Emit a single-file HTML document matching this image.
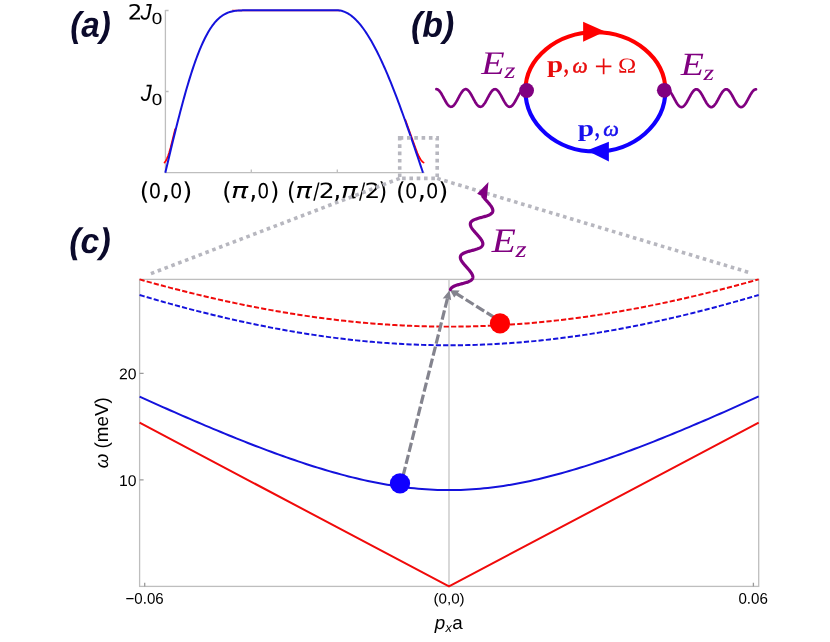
<!DOCTYPE html>
<html><head><meta charset="utf-8"><title>Figure</title>
<style>html,body{margin:0;padding:0;background:#fff;}svg{display:block;}</style>
</head><body>
<svg width="830" height="642" viewBox="0 0 830 642">
<rect width="830" height="642" fill="#ffffff"/>
<!-- panel a -->
<g fill="none" stroke="#bebebe" stroke-width="1.3">
<path d="M165.4,10 V172.7 H424.5"/>
<path d="M165.4,10.5 h3.2 M165.4,91.5 h3.2 M251.3,172.7 v-3.2 M337.3,172.7 v-3.2"/>
</g>
<path d="M164.50,162.50 L165.60,161.30 L166.90,158.60 L168.00,156.00 L169.20,152.50 L170.50,148.00 L171.50,144.00 L173.00,138.00 L175.20,129.00" fill="none" stroke="#ff0000" stroke-width="1.7" stroke-linecap="round" stroke-linejoin="round"/>
<path d="M423.70,162.60 L422.40,161.80 L420.60,159.50 L418.90,156.50 L417.40,153.00 L415.50,148.00 L413.70,143.00 L411.50,137.00 L409.00,130.00 L405.40,120.00" fill="none" stroke="#ff0000" stroke-width="1.7" stroke-linecap="round" stroke-linejoin="round"/>
<path d="M232,10.6 H340" fill="none" stroke="#f00a0a" stroke-width="2.0" stroke-opacity="0.45"/>
<path d="M165.30,172.70 L166.37,168.19 L167.45,163.69 L168.52,159.19 L169.59,154.71 L170.67,150.24 L171.74,145.80 L172.82,141.38 L173.89,136.99 L174.96,132.64 L176.04,128.32 L177.11,124.05 L178.19,119.82 L179.26,115.64 L180.33,111.52 L181.41,107.45 L182.48,103.44 L183.55,99.50 L184.63,95.63 L185.70,91.82 L186.78,88.09 L187.85,84.43 L188.92,80.86 L190.00,77.36 L191.07,73.95 L192.14,70.63 L193.22,67.39 L194.29,64.24 L195.37,61.19 L196.44,58.23 L197.51,55.36 L198.59,52.59 L199.66,49.92 L200.73,47.34 L201.81,44.86 L202.88,42.48 L203.96,40.20 L205.03,38.02 L206.10,35.93 L207.18,33.95 L208.25,32.06 L209.32,30.26 L210.40,28.57 L211.47,26.96 L212.55,25.45 L213.62,24.03 L214.69,22.70 L215.77,21.46 L216.84,20.30 L217.91,19.22 L218.99,18.23 L220.06,17.31 L221.13,16.47 L222.21,15.70 L223.28,15.00 L224.36,14.36 L225.43,13.79 L226.50,13.27 L227.58,12.81 L228.65,12.41 L229.73,12.05 L230.80,11.74 L231.87,11.47 L232.95,11.24 L234.02,11.04 L235.09,10.88 L236.17,10.74 L237.24,10.63 L238.31,10.54 L239.39,10.47 L240.46,10.42 L241.54,10.38 L242.61,10.35 L243.68,10.33 L244.76,10.32 L245.83,10.31 L246.91,10.30 L247.98,10.30 L249.05,10.30 L250.13,10.30 L251.20,10.30 L252.27,10.30 L253.35,10.30 L254.42,10.30 L255.50,10.30 L256.57,10.30 L257.64,10.30 L258.72,10.30 L259.79,10.30 L260.86,10.30 L261.94,10.30 L263.01,10.30 L264.08,10.30 L265.16,10.30 L266.23,10.30 L267.31,10.30 L268.38,10.30 L269.45,10.30 L270.53,10.30 L271.60,10.30 L272.68,10.30 L273.75,10.30 L274.82,10.30 L275.90,10.30 L276.97,10.30 L278.04,10.30 L279.12,10.30 L280.19,10.30 L281.26,10.30 L282.34,10.30 L283.41,10.30 L284.49,10.30 L285.56,10.30 L286.63,10.30 L287.71,10.30 L288.78,10.30 L289.86,10.30 L290.93,10.30 L292.00,10.30 L293.08,10.30 L294.15,10.30 L295.22,10.30 L296.30,10.30 L297.37,10.30 L298.44,10.30 L299.52,10.30 L300.59,10.30 L301.67,10.30 L302.74,10.30 L303.81,10.30 L304.89,10.30 L305.96,10.30 L307.03,10.30 L308.11,10.30 L309.18,10.30 L310.26,10.30 L311.33,10.30 L312.40,10.30 L313.48,10.30 L314.55,10.30 L315.62,10.30 L316.70,10.30 L317.77,10.30 L318.85,10.30 L319.92,10.30 L320.99,10.30 L322.07,10.30 L323.14,10.30 L324.22,10.30 L325.29,10.30 L326.36,10.30 L327.44,10.30 L328.51,10.30 L329.58,10.30 L330.66,10.30 L331.73,10.30 L332.80,10.30 L333.88,10.30 L334.95,10.30 L336.03,10.30 L337.10,10.30 L338.17,10.33 L339.25,10.43 L340.32,10.58 L341.39,10.80 L342.47,11.08 L343.54,11.43 L344.62,11.83 L345.69,12.30 L346.76,12.83 L347.84,13.42 L348.91,14.07 L349.99,14.79 L351.06,15.56 L352.13,16.40 L353.21,17.29 L354.28,18.25 L355.35,19.26 L356.43,20.34 L357.50,21.47 L358.57,22.66 L359.65,23.91 L360.72,25.22 L361.80,26.58 L362.87,28.00 L363.94,29.48 L365.02,31.01 L366.09,32.59 L367.16,34.23 L368.24,35.92 L369.31,37.67 L370.39,39.47 L371.46,41.32 L372.53,43.22 L373.61,45.16 L374.68,47.16 L375.75,49.21 L376.83,51.30 L377.90,53.45 L378.98,55.63 L380.05,57.87 L381.12,60.14 L382.20,62.46 L383.27,64.83 L384.34,67.23 L385.42,69.67 L386.49,72.16 L387.57,74.68 L388.64,77.24 L389.71,79.84 L390.79,82.48 L391.86,85.14 L392.93,87.85 L394.01,90.58 L395.08,93.35 L396.16,96.15 L397.23,98.97 L398.30,101.83 L399.38,104.71 L400.45,107.62 L401.52,110.55 L402.60,113.51 L403.67,116.49 L404.75,119.49 L405.82,122.52 L406.89,125.56 L407.97,128.62 L409.04,131.70 L410.12,134.79 L411.19,137.90 L412.26,141.02 L413.34,144.15 L414.41,147.30 L415.48,150.45 L416.56,153.61 L417.63,156.78 L418.71,159.96 L419.78,163.14 L420.85,166.32 L421.93,169.51 L423.00,172.70" fill="none" stroke="#1412dc" stroke-width="2.0" stroke-linejoin="round"/>
<text transform="translate(139.69,199.62) scale(1.017,1) rotate(0.03)" font-family="'DejaVu Sans',sans-serif"  font-size="24.14px" fill="#000">(</text><text transform="translate(148.72,198.20) scale(0.931,1) rotate(0.03)" font-family="'DejaVu Sans',sans-serif"  font-size="20.89px" fill="#000">0</text><text transform="translate(161.40,198.51) scale(0.963,1) rotate(0.03)" font-family="'DejaVu Sans',sans-serif"  font-size="28.31px" fill="#000">,</text><text transform="translate(169.92,198.20) scale(0.931,1) rotate(0.03)" font-family="'DejaVu Sans',sans-serif"  font-size="20.89px" fill="#000">0</text><text transform="translate(182.13,199.62) scale(1.072,1) rotate(0.03)" font-family="'DejaVu Sans',sans-serif"  font-size="24.14px" fill="#000">)</text>
<text transform="translate(395.89,199.62) scale(1.017,1) rotate(0.03)" font-family="'DejaVu Sans',sans-serif"  font-size="24.14px" fill="#000">(</text><text transform="translate(404.92,198.20) scale(0.931,1) rotate(0.03)" font-family="'DejaVu Sans',sans-serif"  font-size="20.89px" fill="#000">0</text><text transform="translate(417.60,198.51) scale(0.963,1) rotate(0.03)" font-family="'DejaVu Sans',sans-serif"  font-size="28.31px" fill="#000">,</text><text transform="translate(426.12,198.20) scale(0.931,1) rotate(0.03)" font-family="'DejaVu Sans',sans-serif"  font-size="20.89px" fill="#000">0</text><text transform="translate(438.33,199.62) scale(1.072,1) rotate(0.03)" font-family="'DejaVu Sans',sans-serif"  font-size="24.14px" fill="#000">)</text>
<text transform="translate(222.33,199.62) scale(0.998,1) rotate(0.03)" font-family="'DejaVu Sans',sans-serif"  font-size="24.14px" fill="#000">(</text><text transform="translate(230.94,198.08) scale(1.292,1) rotate(0.03)" font-family="'DejaVu Sans',sans-serif" font-style="italic" font-size="22.09px" fill="#000">π</text><text transform="translate(249.26,198.51) scale(0.889,1) rotate(0.03)" font-family="'DejaVu Sans',sans-serif"  font-size="28.31px" fill="#000">,</text><text transform="translate(257.36,198.20) scale(0.902,1) rotate(0.03)" font-family="'DejaVu Sans',sans-serif"  font-size="20.89px" fill="#000">0</text><text transform="translate(270.07,199.62) scale(0.998,1) rotate(0.03)" font-family="'DejaVu Sans',sans-serif"  font-size="24.14px" fill="#000">)</text>
<text transform="translate(286.88,199.62) scale(0.924,1) rotate(0.03)" font-family="'DejaVu Sans',sans-serif"  font-size="24.14px" fill="#000">(</text><text transform="translate(295.29,198.08) scale(1.252,1) rotate(0.03)" font-family="'DejaVu Sans',sans-serif" font-style="italic" font-size="22.09px" fill="#000">π</text><text transform="translate(313.30,198.73) scale(0.840,1) rotate(0.03)" font-family="'DejaVu Sans',sans-serif"  font-size="22.27px" fill="#000">/</text><text transform="translate(318.76,198.30) scale(1.192,1) rotate(0.03)" font-family="'DejaVu Sans',sans-serif"  font-size="21.02px" fill="#000">2</text><text transform="translate(333.26,198.51) scale(0.889,1) rotate(0.03)" font-family="'DejaVu Sans',sans-serif"  font-size="28.31px" fill="#000">,</text><text transform="translate(340.99,198.08) scale(1.252,1) rotate(0.03)" font-family="'DejaVu Sans',sans-serif" font-style="italic" font-size="22.09px" fill="#000">π</text><text transform="translate(359.10,198.73) scale(0.826,1) rotate(0.03)" font-family="'DejaVu Sans',sans-serif"  font-size="22.27px" fill="#000">/</text><text transform="translate(364.58,198.30) scale(1.182,1) rotate(0.03)" font-family="'DejaVu Sans',sans-serif"  font-size="21.02px" fill="#000">2</text><text transform="translate(378.41,199.62) scale(0.924,1) rotate(0.03)" font-family="'DejaVu Sans',sans-serif"  font-size="24.14px" fill="#000">)</text>
<!-- dotted zoom lines -->
<g fill="none" stroke="#b7b7bf" stroke-width="3.6" stroke-dasharray="3.6 3.7">
<path d="M399.7,137.9 H437.2 V178.4 H399.7 Z"/>
<line x1="399.7" y1="178.4" x2="150" y2="274"/>
<line x1="437.2" y1="178.4" x2="751.5" y2="273.2"/>
</g>
<!-- panel labels -->
<text transform="translate(70.30,36.83) scale(0.937,1) rotate(0.03)" font-family="'Liberation Sans',sans-serif" font-style="italic" font-weight="bold" font-size="35.51px" fill="#0b0a2b">(a)</text>
<text transform="translate(410.98,36.83) scale(0.953,1) rotate(0.03)" font-family="'Liberation Sans',sans-serif" font-style="italic" font-weight="bold" font-size="35.51px" fill="#0b0a2b">(b)</text>
<text transform="translate(69.28,253.05) scale(0.957,1) rotate(0.03)" font-family="'Liberation Sans',sans-serif" font-style="italic" font-weight="bold" font-size="35.40px" fill="#0b0a2b">(c)</text>
<!-- panel b -->
<g fill="none" stroke-width="4.1">
<path d="M525.4,90.6 A70,58.4 0 0 1 665.4,90.6" stroke="#ff0000"/>
<path d="M665.4,90.6 A70,61 0 0 1 525.4,90.6" stroke="#1000ff"/>
</g>
<path d="M583.1,21.8 L605.0,31.6 L583.1,41.7 Z" fill="#ff0000"/>
<path d="M608.9,141.7 L586.8,150.6 L608.9,161.5 Z" fill="#1000ff"/>
<g fill="none" stroke="#800080" stroke-width="2.7" stroke-linecap="round">
<path d="M436.40,89.20 L436.84,89.24 L437.28,89.36 L437.72,89.55 L438.16,89.82 L438.60,90.17 L439.05,90.58 L439.49,91.06 L439.93,91.60 L440.37,92.20 L440.81,92.85 L441.25,93.55 L441.69,94.28 L442.13,95.05 L442.57,95.85 L443.01,96.67 L443.46,97.49 L443.90,98.32 L444.34,99.15 L444.78,99.97 L445.22,100.77 L445.66,101.55 L446.10,102.29 L446.54,103.00 L446.98,103.66 L447.42,104.27 L447.87,104.83 L448.31,105.32 L448.75,105.75 L449.19,106.11 L449.63,106.40 L450.07,106.61 L450.51,106.74 L450.95,106.80 L451.39,106.78 L451.83,106.68 L452.28,106.50 L452.72,106.24 L453.16,105.92 L453.60,105.52 L454.04,105.05 L454.48,104.52 L454.92,103.94 L455.36,103.30 L455.80,102.61 L456.25,101.88 L456.69,101.12 L457.13,100.33 L457.57,99.52 L458.01,98.69 L458.45,97.86 L458.89,97.03 L459.33,96.21 L459.77,95.40 L460.21,94.62 L460.65,93.87 L461.10,93.15 L461.54,92.48 L461.98,91.86 L462.42,91.29 L462.86,90.78 L463.30,90.34 L463.74,89.96 L464.18,89.66 L464.62,89.43 L465.06,89.28 L465.51,89.21 L465.95,89.21 L466.39,89.30 L466.83,89.46 L467.27,89.69 L467.71,90.01 L468.15,90.39 L468.59,90.84 L469.03,91.35 L469.48,91.93 L469.92,92.56 L470.36,93.24 L470.80,93.96 L471.24,94.71 L471.68,95.50 L472.12,96.30 L472.56,97.13 L473.00,97.96 L473.44,98.79 L473.88,99.61 L474.33,100.42 L474.77,101.21 L475.21,101.97 L475.65,102.69 L476.09,103.38 L476.53,104.01 L476.97,104.59 L477.41,105.11 L477.85,105.57 L478.30,105.96 L478.74,106.28 L479.18,106.52 L479.62,106.69 L480.06,106.78 L480.50,106.80 L480.94,106.73 L481.38,106.59 L481.82,106.36 L482.26,106.07 L482.70,105.70 L483.15,105.27 L483.59,104.76 L484.03,104.20 L484.47,103.58 L484.91,102.92 L485.35,102.21 L485.79,101.46 L486.23,100.68 L486.67,99.87 L487.12,99.05 L487.56,98.22 L488.00,97.39 L488.44,96.57 L488.88,95.75 L489.32,94.96 L489.76,94.19 L490.20,93.46 L490.64,92.77 L491.08,92.12 L491.52,91.53 L491.97,91.00 L492.41,90.53 L492.85,90.12 L493.29,89.79 L493.73,89.52 L494.17,89.34 L494.61,89.23 L495.05,89.20 L495.49,89.25 L495.94,89.38 L496.38,89.58 L496.82,89.86 L497.26,90.21 L497.70,90.63 L498.14,91.12 L498.58,91.67 L499.02,92.28 L499.46,92.93 L499.90,93.63 L500.35,94.37 L500.79,95.15 L501.23,95.95 L501.67,96.76 L502.11,97.59 L502.55,98.42 L502.99,99.25 L503.43,100.07 L503.87,100.87 L504.31,101.64 L504.75,102.38 L505.20,103.08 L505.64,103.74 L506.08,104.34 L506.52,104.89 L506.96,105.38 L507.40,105.80 L507.84,106.15 L508.28,106.42 L508.72,106.63 L509.17,106.75 L509.61,106.80 L510.05,106.77 L510.49,106.66 L510.93,106.47 L511.37,106.21 L511.81,105.87 L512.25,105.47 L512.69,104.99 L513.13,104.46 L513.58,103.86 L514.02,103.22 L514.46,102.52 L514.90,101.79 L515.34,101.02 L515.78,100.23 L516.22,99.42 L516.66,98.59 L517.10,97.76 L517.54,96.93 L517.99,96.11 L518.43,95.31 L518.87,94.53 L519.31,93.78 L519.75,93.07 L520.19,92.40 L520.63,91.79 L521.07,91.23 L521.51,90.73 L521.95,90.29 L522.39,89.92 L522.84,89.63 L523.28,89.41 L523.72,89.27 L524.16,89.20 L524.60,89.22"/>
<path d="M666.60,89.30 L667.05,89.34 L667.49,89.46 L667.94,89.65 L668.39,89.92 L668.84,90.27 L669.28,90.69 L669.73,91.17 L670.18,91.71 L670.62,92.31 L671.07,92.97 L671.52,93.67 L671.96,94.41 L672.41,95.19 L672.86,95.99 L673.31,96.81 L673.75,97.64 L674.20,98.48 L674.65,99.32 L675.09,100.14 L675.54,100.95 L675.99,101.73 L676.43,102.49 L676.88,103.20 L677.33,103.87 L677.77,104.49 L678.22,105.06 L678.67,105.56 L679.12,106.00 L679.56,106.37 L680.01,106.66 L680.46,106.89 L680.90,107.03 L681.35,107.10 L681.80,107.08 L682.25,106.99 L682.69,106.82 L683.14,106.57 L683.59,106.25 L684.03,105.86 L684.48,105.40 L684.93,104.88 L685.37,104.29 L685.82,103.65 L686.27,102.97 L686.72,102.24 L687.16,101.48 L687.61,100.68 L688.06,99.87 L688.50,99.04 L688.95,98.20 L689.40,97.36 L689.84,96.53 L690.29,95.72 L690.74,94.92 L691.19,94.16 L691.63,93.43 L692.08,92.75 L692.53,92.11 L692.97,91.52 L693.42,91.00 L693.87,90.54 L694.31,90.15 L694.76,89.83 L695.21,89.58 L695.65,89.41 L696.10,89.32 L696.55,89.30 L697.00,89.37 L697.44,89.51 L697.89,89.74 L698.34,90.03 L698.78,90.40 L699.23,90.84 L699.68,91.34 L700.12,91.91 L700.57,92.53 L701.02,93.20 L701.47,93.91 L701.91,94.67 L702.36,95.45 L702.81,96.26 L703.25,97.08 L703.70,97.92 L704.15,98.76 L704.60,99.59 L705.04,100.41 L705.49,101.21 L705.94,101.99 L706.38,102.73 L706.83,103.43 L707.28,104.09 L707.72,104.69 L708.17,105.23 L708.62,105.71 L709.07,106.13 L709.51,106.48 L709.96,106.75 L710.41,106.94 L710.85,107.06 L711.30,107.10 L711.75,107.06 L712.19,106.94 L712.64,106.75 L713.09,106.48 L713.53,106.13 L713.98,105.71 L714.43,105.23 L714.88,104.69 L715.32,104.09 L715.77,103.43 L716.22,102.73 L716.66,101.99 L717.11,101.21 L717.56,100.41 L718.00,99.59 L718.45,98.76 L718.90,97.92 L719.35,97.08 L719.79,96.26 L720.24,95.45 L720.69,94.67 L721.13,93.91 L721.58,93.20 L722.03,92.53 L722.48,91.91 L722.92,91.34 L723.37,90.84 L723.82,90.40 L724.26,90.03 L724.71,89.74 L725.16,89.51 L725.60,89.37 L726.05,89.30 L726.50,89.32 L726.95,89.41 L727.39,89.58 L727.84,89.83 L728.29,90.15 L728.73,90.54 L729.18,91.00 L729.63,91.52 L730.07,92.11 L730.52,92.75 L730.97,93.43 L731.41,94.16 L731.86,94.92 L732.31,95.72 L732.76,96.53 L733.20,97.36 L733.65,98.20 L734.10,99.04 L734.54,99.87 L734.99,100.68 L735.44,101.48 L735.88,102.24 L736.33,102.97 L736.78,103.65 L737.23,104.29 L737.67,104.88 L738.12,105.40 L738.57,105.86 L739.01,106.25 L739.46,106.57 L739.91,106.82 L740.36,106.99 L740.80,107.08 L741.25,107.10 L741.70,107.03 L742.14,106.89 L742.59,106.66 L743.04,106.37 L743.48,106.00 L743.93,105.56 L744.38,105.06 L744.83,104.49 L745.27,103.87 L745.72,103.20 L746.17,102.49 L746.61,101.73 L747.06,100.95 L747.51,100.14 L747.95,99.32 L748.40,98.48 L748.85,97.64 L749.29,96.81 L749.74,95.99 L750.19,95.19 L750.64,94.41 L751.08,93.67 L751.53,92.97 L751.98,92.31 L752.42,91.71 L752.87,91.17 L753.32,90.69 L753.76,90.27 L754.21,89.92 L754.66,89.65 L755.11,89.46 L755.55,89.34 L756.00,89.30"/>
</g>
<circle cx="526.6" cy="90.5" r="7.4" fill="#800080"/>
<circle cx="664.3" cy="90.3" r="7.4" fill="#800080"/>
<!-- panel c -->
<g fill="none" stroke="#bebebe" stroke-width="1.3">
<rect x="139.6" y="279.4" width="619.1" height="307.0"/>
<line x1="449.0" y1="279.4" x2="449.0" y2="586.4" stroke="#c4c4c4"/>
<path d="M139.6,479.8 h4 M139.6,373.3 h4 M144.7,586.4 v-3.6 M753.4,586.4 v-3.6" stroke="#9a9a9a"/>
</g>
<path d="M139.60,422.74 L449.00,586.40 L758.70,422.74" fill="none" stroke="#f00a0a" stroke-width="2.0"/>
<path d="M139.60,396.57 L143.47,398.33 L147.34,400.08 L151.21,401.83 L155.08,403.57 L158.95,405.31 L162.82,407.04 L166.69,408.76 L170.56,410.47 L174.42,412.18 L178.29,413.88 L182.16,415.58 L186.03,417.26 L189.90,418.94 L193.77,420.61 L197.64,422.27 L201.51,423.92 L205.38,425.56 L209.25,427.20 L213.12,428.82 L216.99,430.44 L220.86,432.04 L224.73,433.63 L228.60,435.22 L232.47,436.79 L236.33,438.35 L240.20,439.89 L244.07,441.43 L247.94,442.95 L251.81,444.46 L255.68,445.96 L259.55,447.44 L263.42,448.91 L267.29,450.36 L271.16,451.79 L275.03,453.22 L278.90,454.62 L282.77,456.01 L286.64,457.38 L290.51,458.73 L294.38,460.06 L298.24,461.38 L302.11,462.67 L305.98,463.95 L309.85,465.20 L313.72,466.43 L317.59,467.64 L321.46,468.82 L325.33,469.98 L329.20,471.12 L333.07,472.23 L336.94,473.32 L340.81,474.37 L344.68,475.40 L348.55,476.41 L352.42,477.38 L356.28,478.32 L360.15,479.24 L364.02,480.12 L367.89,480.96 L371.76,481.78 L375.63,482.56 L379.50,483.31 L383.37,484.02 L387.24,484.69 L391.11,485.33 L394.98,485.93 L398.85,486.50 L402.72,487.02 L406.59,487.50 L410.46,487.95 L414.33,488.35 L418.20,488.71 L422.06,489.03 L425.93,489.31 L429.80,489.55 L433.67,489.74 L437.54,489.89 L441.41,490.00 L445.28,490.06 L449.15,490.08 L453.02,490.06 L456.89,489.99 L460.76,489.88 L464.63,489.73 L468.50,489.53 L472.37,489.29 L476.24,489.01 L480.11,488.68 L483.97,488.32 L487.84,487.91 L491.71,487.47 L495.58,486.98 L499.45,486.45 L503.32,485.89 L507.19,485.28 L511.06,484.64 L514.93,483.97 L518.80,483.25 L522.67,482.50 L526.54,481.72 L530.41,480.90 L534.28,480.05 L538.15,479.17 L542.01,478.25 L545.88,477.31 L549.75,476.33 L553.62,475.33 L557.49,474.29 L561.36,473.23 L565.23,472.15 L569.10,471.03 L572.97,469.89 L576.84,468.73 L580.71,467.54 L584.58,466.33 L588.45,465.10 L592.32,463.85 L596.19,462.57 L600.06,461.28 L603.92,459.96 L607.79,458.63 L611.66,457.27 L615.53,455.90 L619.40,454.51 L623.27,453.11 L627.14,451.68 L631.01,450.25 L634.88,448.79 L638.75,447.32 L642.62,445.84 L646.49,444.34 L650.36,442.83 L654.23,441.31 L658.10,439.77 L661.97,438.23 L665.84,436.67 L669.70,435.09 L673.57,433.51 L677.44,431.92 L681.31,430.31 L685.18,428.70 L689.05,427.07 L692.92,425.44 L696.79,423.79 L700.66,422.14 L704.53,420.48 L708.40,418.81 L712.27,417.13 L716.14,415.45 L720.01,413.75 L723.88,412.05 L727.75,410.34 L731.61,408.62 L735.48,406.90 L739.35,405.17 L743.22,403.44 L747.09,401.69 L750.96,399.95 L754.83,398.19 L758.70,396.43" fill="none" stroke="#1412dc" stroke-width="2.0"/>
<path d="M139.60,279.42 L143.47,280.50 L147.34,281.58 L151.21,282.64 L155.08,283.70 L158.95,284.74 L162.82,285.78 L166.69,286.80 L170.56,287.82 L174.42,288.82 L178.29,289.81 L182.16,290.79 L186.03,291.76 L189.90,292.72 L193.77,293.67 L197.64,294.61 L201.51,295.54 L205.38,296.45 L209.25,297.35 L213.12,298.25 L216.99,299.13 L220.86,299.99 L224.73,300.85 L228.60,301.69 L232.47,302.52 L236.33,303.34 L240.20,304.15 L244.07,304.94 L247.94,305.72 L251.81,306.49 L255.68,307.25 L259.55,307.99 L263.42,308.72 L267.29,309.44 L271.16,310.14 L275.03,310.83 L278.90,311.50 L282.77,312.17 L286.64,312.81 L290.51,313.45 L294.38,314.07 L298.24,314.68 L302.11,315.27 L305.98,315.85 L309.85,316.41 L313.72,316.96 L317.59,317.50 L321.46,318.02 L325.33,318.53 L329.20,319.02 L333.07,319.50 L336.94,319.96 L340.81,320.41 L344.68,320.84 L348.55,321.26 L352.42,321.66 L356.28,322.05 L360.15,322.42 L364.02,322.77 L367.89,323.12 L371.76,323.44 L375.63,323.75 L379.50,324.05 L383.37,324.32 L387.24,324.59 L391.11,324.83 L394.98,325.07 L398.85,325.28 L402.72,325.48 L406.59,325.67 L410.46,325.83 L414.33,325.99 L418.20,326.12 L422.06,326.24 L425.93,326.34 L429.80,326.43 L433.67,326.50 L437.54,326.56 L441.41,326.60 L445.28,326.62 L449.15,326.63 L453.02,326.62 L456.89,326.60 L460.76,326.56 L464.63,326.50 L468.50,326.43 L472.37,326.34 L476.24,326.23 L480.11,326.11 L483.97,325.97 L487.84,325.82 L491.71,325.65 L495.58,325.47 L499.45,325.27 L503.32,325.05 L507.19,324.82 L511.06,324.57 L514.93,324.30 L518.80,324.02 L522.67,323.73 L526.54,323.42 L530.41,323.09 L534.28,322.75 L538.15,322.39 L542.01,322.02 L545.88,321.63 L549.75,321.23 L553.62,320.81 L557.49,320.37 L561.36,319.92 L565.23,319.46 L569.10,318.98 L572.97,318.49 L576.84,317.98 L580.71,317.46 L584.58,316.92 L588.45,316.37 L592.32,315.81 L596.19,315.23 L600.06,314.63 L603.92,314.02 L607.79,313.40 L611.66,312.77 L615.53,312.12 L619.40,311.45 L623.27,310.77 L627.14,310.08 L631.01,309.38 L634.88,308.66 L638.75,307.93 L642.62,307.19 L646.49,306.43 L650.36,305.66 L654.23,304.88 L658.10,304.09 L661.97,303.28 L665.84,302.46 L669.70,301.63 L673.57,300.78 L677.44,299.93 L681.31,299.06 L685.18,298.18 L689.05,297.28 L692.92,296.38 L696.79,295.47 L700.66,294.54 L704.53,293.60 L708.40,292.65 L712.27,291.69 L716.14,290.72 L720.01,289.74 L723.88,288.74 L727.75,287.74 L731.61,286.72 L735.48,285.70 L739.35,284.66 L743.22,283.62 L747.09,282.56 L750.96,281.49 L754.83,280.42 L758.70,279.33" fill="none" stroke="#f00a0a" stroke-width="1.95" stroke-dasharray="5.2 2.15"/>
<path d="M139.60,295.03 L143.47,296.17 L147.34,297.30 L151.21,298.43 L155.08,299.54 L158.95,300.64 L162.82,301.74 L166.69,302.82 L170.56,303.89 L174.42,304.95 L178.29,306.00 L182.16,307.04 L186.03,308.07 L189.90,309.08 L193.77,310.09 L197.64,311.08 L201.51,312.06 L205.38,313.03 L209.25,313.99 L213.12,314.94 L216.99,315.87 L220.86,316.79 L224.73,317.70 L228.60,318.60 L232.47,319.48 L236.33,320.35 L240.20,321.21 L244.07,322.05 L247.94,322.89 L251.81,323.70 L255.68,324.51 L259.55,325.30 L263.42,326.08 L267.29,326.84 L271.16,327.59 L275.03,328.33 L278.90,329.05 L282.77,329.76 L286.64,330.45 L290.51,331.13 L294.38,331.80 L298.24,332.45 L302.11,333.08 L305.98,333.70 L309.85,334.30 L313.72,334.89 L317.59,335.47 L321.46,336.03 L325.33,336.57 L329.20,337.10 L333.07,337.61 L336.94,338.10 L340.81,338.59 L344.68,339.05 L348.55,339.50 L352.42,339.93 L356.28,340.35 L360.15,340.74 L364.02,341.13 L367.89,341.49 L371.76,341.84 L375.63,342.18 L379.50,342.49 L383.37,342.79 L387.24,343.08 L391.11,343.34 L394.98,343.59 L398.85,343.82 L402.72,344.04 L406.59,344.24 L410.46,344.42 L414.33,344.58 L418.20,344.73 L422.06,344.86 L425.93,344.97 L429.80,345.06 L433.67,345.14 L437.54,345.20 L441.41,345.24 L445.28,345.27 L449.15,345.28 L453.02,345.27 L456.89,345.24 L460.76,345.20 L464.63,345.14 L468.50,345.06 L472.37,344.96 L476.24,344.85 L480.11,344.72 L483.97,344.57 L487.84,344.40 L491.71,344.22 L495.58,344.02 L499.45,343.81 L503.32,343.57 L507.19,343.32 L511.06,343.06 L514.93,342.77 L518.80,342.47 L522.67,342.15 L526.54,341.82 L530.41,341.47 L534.28,341.10 L538.15,340.71 L542.01,340.31 L545.88,339.90 L549.75,339.46 L553.62,339.01 L557.49,338.55 L561.36,338.07 L565.23,337.57 L569.10,337.06 L572.97,336.53 L576.84,335.98 L580.71,335.42 L584.58,334.85 L588.45,334.26 L592.32,333.65 L596.19,333.03 L600.06,332.40 L603.92,331.74 L607.79,331.08 L611.66,330.40 L615.53,329.70 L619.40,329.00 L623.27,328.27 L627.14,327.54 L631.01,326.78 L634.88,326.02 L638.75,325.24 L642.62,324.45 L646.49,323.64 L650.36,322.82 L654.23,321.99 L658.10,321.14 L661.97,320.28 L665.84,319.41 L669.70,318.53 L673.57,317.63 L677.44,316.72 L681.31,315.80 L685.18,314.86 L689.05,313.92 L692.92,312.96 L696.79,311.99 L700.66,311.00 L704.53,310.01 L708.40,309.00 L712.27,307.99 L716.14,306.96 L720.01,305.92 L723.88,304.87 L727.75,303.81 L731.61,302.73 L735.48,301.65 L739.35,300.56 L743.22,299.45 L747.09,298.34 L750.96,297.22 L754.83,296.08 L758.70,294.94" fill="none" stroke="#1412dc" stroke-width="1.95" stroke-dasharray="5.2 2.15"/>
<!-- gray arrows -->
<g fill="none" stroke="#84848e" stroke-width="3.2" stroke-dasharray="9.4 3">
<line x1="447.45" y1="298.4" x2="402.4" y2="478.6"/>
<line x1="455.2" y1="292.9" x2="496.5" y2="318.9"/>
</g>
<path d="M449.5,290.2 L451.2,300.2 L446.9,298.2 L442.7,298.4 Z" fill="#84848e"/>
<path d="M450.0,290.2 L459.6,290.4 L457.1,293.9 L454.2,297.5 Z" fill="#84848e"/>
<circle cx="500" cy="323.4" r="10.1" fill="#ff0000"/>
<circle cx="400" cy="483.4" r="10.1" fill="#1000ff"/>
<path d="M450.49,289.51 L450.63,289.12 L450.82,288.75 L451.05,288.39 L451.34,288.05 L451.67,287.72 L452.04,287.40 L452.45,287.10 L452.91,286.81 L453.41,286.53 L453.94,286.26 L454.51,286.01 L455.11,285.76 L455.74,285.52 L456.40,285.29 L457.08,285.07 L457.78,284.85 L458.50,284.64 L459.24,284.43 L459.98,284.23 L460.74,284.03 L461.49,283.83 L462.25,283.63 L463.01,283.42 L463.76,283.22 L464.49,283.01 L465.22,282.80 L465.93,282.59 L466.61,282.37 L467.28,282.14 L467.92,281.90 L468.53,281.66 L469.10,281.40 L469.65,281.14 L470.15,280.86 L470.62,280.58 L471.05,280.28 L471.43,279.96 L471.77,279.64 L472.07,279.30 L472.32,278.94 L472.52,278.58 L472.68,278.20 L472.78,277.80 L472.84,277.39 L472.86,276.96 L472.82,276.53 L472.74,276.07 L472.62,275.61 L472.45,275.13 L472.24,274.64 L471.99,274.13 L471.71,273.62 L471.38,273.09 L471.03,272.56 L470.64,272.01 L470.23,271.46 L469.79,270.90 L469.33,270.33 L468.85,269.76 L468.35,269.18 L467.85,268.60 L467.33,268.02 L466.81,267.43 L466.29,266.85 L465.77,266.26 L465.25,265.68 L464.75,265.10 L464.26,264.52 L463.78,263.95 L463.32,263.39 L462.89,262.83 L462.48,262.28 L462.10,261.73 L461.75,261.20 L461.43,260.68 L461.15,260.16 L460.91,259.66 L460.71,259.17 L460.55,258.70 L460.43,258.23 L460.36,257.78 L460.33,257.35 L460.35,256.93 L460.42,256.52 L460.54,256.12 L460.70,255.74 L460.91,255.38 L461.17,255.03 L461.47,254.69 L461.82,254.37 L462.21,254.06 L462.65,253.76 L463.12,253.48 L463.64,253.20 L464.19,252.94 L464.77,252.69 L465.38,252.44 L466.03,252.21 L466.70,251.98 L467.39,251.76 L468.10,251.55 L468.83,251.34 L469.57,251.13 L470.32,250.93 L471.07,250.73 L471.83,250.53 L472.59,250.33 L473.34,250.12 L474.08,249.92 L474.82,249.71 L475.53,249.50 L476.23,249.28 L476.91,249.06 L477.56,248.83 L478.19,248.59 L478.79,248.34 L479.35,248.08 L479.87,247.81 L480.36,247.53 L480.81,247.23 L481.22,246.93 L481.59,246.61 L481.91,246.28 L482.18,245.93 L482.41,245.57 L482.59,245.20 L482.72,244.81 L482.81,244.41 L482.85,243.99 L482.84,243.56 L482.79,243.12 L482.69,242.66 L482.54,242.19 L482.36,241.70 L482.13,241.20 L481.86,240.70 L481.56,240.18 L481.22,239.65 L480.85,239.11 L480.45,238.56 L480.02,238.00 L479.58,237.44 L479.11,236.87 L478.62,236.29 L478.12,235.71 L477.61,235.13 L477.09,234.55 L476.57,233.96 L476.05,233.38 L475.53,232.79 L475.02,232.21 L474.52,231.63 L474.03,231.06 L473.56,230.49 L473.12,229.93 L472.69,229.37 L472.30,228.82 L471.93,228.28 L471.59,227.75 L471.29,227.24 L471.03,226.73 L470.81,226.23 L470.62,225.75 L470.48,225.28 L470.39,224.82 L470.34,224.38 L470.33,223.95 L470.37,223.53 L470.46,223.13 L470.60,222.74 L470.79,222.37 L471.02,222.01 L471.30,221.67 L471.62,221.34 L471.99,221.02 L472.40,220.71 L472.85,220.42 L473.34,220.14 L473.87,219.87 L474.44,219.61 L475.04,219.37 L475.67,219.13 L476.32,218.90 L477.00,218.67 L477.70,218.45 L478.42,218.24 L479.15,218.04 L479.90,217.83 L480.65,217.63 L481.41,217.43 L482.17,217.23 L482.92,217.03 L483.67,216.82 L484.41,216.62 L485.14,216.41 L485.85,216.19 L486.54,215.97 L487.20,215.75 L487.84,215.51 L488.46,215.27 L489.04,215.01 L489.58,214.75 L490.09,214.47 L490.57,214.19 L491.00,213.89 L491.39,213.58 L491.73,213.25 L492.03,212.92 L492.28,212.56 L492.49,212.20 L492.65,211.82 L492.76,211.42 L492.83,211.01 L492.84,210.59 L492.81,210.15 L492.74,209.70 L492.62,209.24 L492.46,208.76 L492.25,208.27 L492.01,207.77 L491.72,207.25 L491.40,206.73 L491.05,206.20 L490.67,205.65 L490.25,205.10 L489.82,204.54 L489.36,203.97 L488.88,203.40 L488.39,202.82 L487.88,202.24 L487.37,201.66 L486.85,201.08 L486.33,200.49 L485.81,199.91 L485.29,199.32 L484.78,198.74 L484.29,198.16 L483.81,197.59 L483.35,197.03 L482.92,196.47" fill="none" stroke="#800080" stroke-width="3.2" stroke-linecap="round"/>
<path d="M488.5,182 L477.1,193.7 L486.8,198.4 Z" fill="#800080"/>
<text transform="translate(119.11,379.35) scale(1.013,1) rotate(0.03)" font-family="'Liberation Sans',sans-serif"  font-size="15.54px" fill="#000">20</text>
<text transform="translate(119.11,485.90) scale(1.013,1) rotate(0.03)" font-family="'Liberation Sans',sans-serif"  font-size="15.54px" fill="#000">10</text>
<text transform="translate(125.56,603.75) scale(0.978,1) rotate(0.03)" font-family="'Liberation Sans',sans-serif"  font-size="15.40px" fill="#000">−0.06</text>
<text transform="translate(433.46,603.52) scale(1.054,1) rotate(0.03)" font-family="'Liberation Sans',sans-serif"  font-size="14.38px" fill="#000">(0,0)</text>
<text transform="translate(738.41,603.75) scale(0.983,1) rotate(0.03)" font-family="'Liberation Sans',sans-serif"  font-size="15.40px" fill="#000">0.06</text>
<g font-family="'Liberation Sans',sans-serif" font-size="18.8px" fill="#000">
<text transform="translate(434.8,628.9) rotate(0.03)"><tspan font-style="italic">p</tspan><tspan font-style="italic" font-size="12.8px" dy="3" dx="0.3">x</tspan><tspan dy="-3" dx="0.2">a</tspan></text>
<text transform="translate(107.9,432.8) rotate(-90.03)" text-anchor="middle"><tspan font-style="italic">ω</tspan> (meV)</text>
</g>
<text transform="translate(481.35,73.50) scale(1.160,1) rotate(0.03)" font-family="'Liberation Serif',serif" font-style="italic" font-size="32.99px" fill="#800080">E</text><text transform="translate(504.62,78.20) scale(1.231,1) rotate(0.03)" font-family="'Liberation Serif',serif" font-style="italic" font-size="22.88px" fill="#800080">z</text>
<text transform="translate(680.84,74.80) scale(1.171,1) rotate(0.03)" font-family="'Liberation Serif',serif" font-style="italic" font-size="32.38px" fill="#800080">E</text><text transform="translate(703.40,79.80) scale(1.208,1) rotate(0.03)" font-family="'Liberation Serif',serif" font-style="italic" font-size="22.44px" fill="#800080">z</text>
<text transform="translate(491.76,251.60) scale(1.142,1) rotate(0.03)" font-family="'Liberation Serif',serif" font-style="italic" font-size="34.52px" fill="#800080">E</text><text transform="translate(515.42,256.90) scale(1.219,1) rotate(0.03)" font-family="'Liberation Serif',serif" font-style="italic" font-size="23.31px" fill="#800080">z</text>
<text transform="translate(546.93,72.49) scale(1.233,1) rotate(0.03)" font-family="'Liberation Serif',serif" font-weight="bold" font-size="23.54px" fill="#e80c0c">p</text><text transform="translate(563.64,73.05) scale(0.769,1) rotate(0.03)" font-family="'Liberation Serif',serif" font-weight="bold" font-size="25.52px" fill="#e80c0c">,</text><text transform="translate(572.59,72.39) scale(1.007,1) rotate(0.03)" font-family="'Liberation Serif',serif" font-style="italic" font-size="21.32px" fill="#e80c0c" stroke="#e80c0c" stroke-width="0.5">ω</text><text transform="translate(594.24,77.54) scale(0.988,1) rotate(0.03)" font-family="'Liberation Serif',serif"  font-size="33.70px" fill="#e80c0c">+</text><text transform="translate(618.03,72.80) scale(1.136,1) rotate(0.03)" font-family="'Liberation Serif',serif"  font-size="21.60px" fill="#e80c0c">Ω</text>
<text transform="translate(577.83,136.15) scale(1.266,1) rotate(0.03)" font-family="'Liberation Serif',serif" font-weight="bold" font-size="23.24px" fill="#1810ee">p</text><text transform="translate(594.74,136.75) scale(0.769,1) rotate(0.03)" font-family="'Liberation Serif',serif" font-weight="bold" font-size="25.52px" fill="#1810ee">,</text><text transform="translate(603.37,135.79) scale(1.037,1) rotate(0.03)" font-family="'Liberation Serif',serif" font-style="italic" font-size="21.32px" fill="#1810ee" stroke="#1810ee" stroke-width="0.5">ω</text>
<text transform="translate(127.72,19.60) scale(1.089,1) rotate(0.03)" font-family="'DejaVu Sans',sans-serif"  font-size="21.02px" fill="#000">2</text><text transform="translate(140.45,19.58) scale(0.987,1) rotate(0.03)" font-family="'Liberation Sans',sans-serif" font-style="italic" font-size="22.64px" fill="#000">J</text><text transform="translate(151.31,23.68) scale(1.177,1) rotate(0.03)" font-family="'DejaVu Sans',sans-serif"  font-size="15.34px" fill="#000">0</text>
<text transform="translate(140.65,100.87) scale(0.940,1) rotate(0.03)" font-family="'Liberation Sans',sans-serif" font-style="italic" font-size="23.36px" fill="#000">J</text><text transform="translate(151.31,104.88) scale(1.177,1) rotate(0.03)" font-family="'DejaVu Sans',sans-serif"  font-size="15.34px" fill="#000">0</text>
</svg>
</body></html>
